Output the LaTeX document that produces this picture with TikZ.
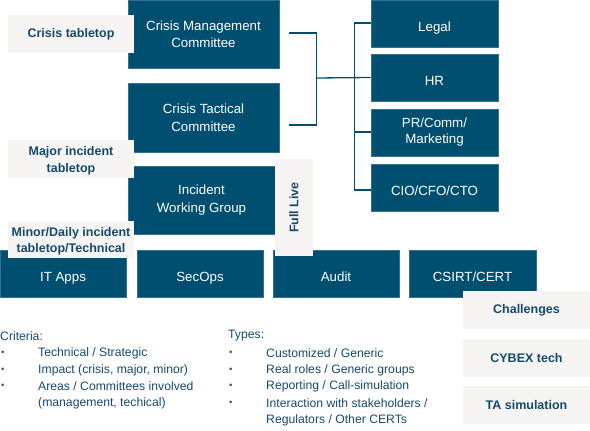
\documentclass[tikz,border=0pt]{standalone}
\usepackage{fontspec}
\setmainfont{Liberation Sans}
\definecolor{boxblue}{RGB}{0,79,112}
\definecolor{lblgray}{RGB}{246,245,243}
\definecolor{txtblue}{RGB}{22,74,106}
\definecolor{bulgray}{RGB}{70,80,90}
\tikzset{
  box/.style={fill=boxblue, draw=boxblue!80!white, line width=0.6pt, text=white, align=center, inner sep=0pt,
    font=\fontsize{13.3}{17.5}\selectfont},
  one/.style={text height=15pt, text depth=0pt},
  lbl/.style={fill=lblgray, text=txtblue, align=center, inner sep=0pt,
    font=\fontsize{12.5}{16.5}\selectfont\bfseries},
  conn/.style={draw=boxblue, line width=1.3pt},
  plain/.style={anchor=west, text=txtblue, inner sep=0pt, font=\fontsize{12.2}{17}\selectfont},
  bul/.style={anchor=west, text=bulgray, inner sep=0pt, font=\fontsize{9.5}{10}\selectfont},
}
\begin{document}
\begin{tikzpicture}[x=1pt,y=-1pt]
\useasboundingbox (0,0) rectangle (590,431);
% left hierarchy
\node[box, minimum width=151pt, minimum height=68pt] (cmc) at (203.5,34) {Crisis Management\\Committee};
\node[box, minimum width=151pt, minimum height=69pt] (ctc) at (203.5,117.5) {Crisis Tactical\\Committee};
\node[box, minimum width=147pt, minimum height=68pt] (iwg) at (201.5,200) {Incident\\Working Group};
% bottom row
\node[box, one, minimum width=126pt, minimum height=47pt] (itapps) at (63,273.5) {IT Apps};
\node[box, one, minimum width=126pt, minimum height=47pt] (secops) at (200,273.5) {SecOps};
\node[box, one, minimum width=126pt, minimum height=47pt] (audit) at (336,273.5) {Audit};
\node[box, one, minimum width=127pt, minimum height=47pt] (csirt) at (472.5,273.5) {CSIRT/CERT};
% right column
\node[box, one, minimum width=127pt, minimum height=47pt] (legal) at (434.5,23.5) {Legal};
\node[box, one, minimum width=127pt, minimum height=47pt] (hr) at (434.5,77.5) {HR};
\node[box, minimum width=127pt, minimum height=47pt, font=\fontsize{13.3}{16}\selectfont] (pr) at (434.5,132.5) {PR/Comm/\\Marketing};
\node[box, one, minimum width=127pt, minimum height=47pt] (cio) at (434.5,187.5) {CIO/CFO/CTO};
% labels
\node[lbl, minimum width=126pt, minimum height=38pt] (ct) at (71,34) {Crisis tabletop};
\node[lbl, minimum width=126pt, minimum height=38pt] (mit) at (71,159) {};
\node[lbl, fill=none] (mittext) at (71,161) {Major incident\\tabletop};
\node[lbl, minimum width=126pt, minimum height=37pt] (mdt) at (71,239.5) {};
\node[lbl, fill=none] (mdttext) at (71,241.5) {Minor/Daily incident\\tabletop/Technical};
\node[lbl, minimum width=38pt, minimum height=97pt] (fl) at (294,207.5) {};
\node[lbl, rotate=90, fill=none] (fltext) at (294,207.5) {Full Live};
\node[lbl, minimum width=127pt, minimum height=38pt] (chal) at (526.5,310) {Challenges};
\node[lbl, minimum width=127pt, minimum height=38pt] (cybex) at (526.5,358) {CYBEX tech};
\node[lbl, minimum width=127pt, minimum height=38pt] (tasim) at (526.5,405) {TA simulation};
% connectors
\coordinate (jhr) at (316,78);
\draw[conn] ([xshift=10pt,yshift=1pt]cmc.east) -- ++(27,0) |- ([xshift=10pt,yshift=-7.5pt]ctc.east);
\draw[conn] (jhr) -- (hr.west);
\draw[conn] ([yshift=0.5pt]legal.west) -- ++(-16,0) |- ([yshift=-2.5pt]cio.west);
\draw[conn] ([yshift=0.5pt]pr.west) -- ++(-16,0);
% criteria
\node[plain] (crit) at (0,336) {Criteria:};
\node[bul] (cb1) at (1,353) {\textbullet};
\node[plain] (c1) at (38,353) {Technical / Strategic};
\node[bul] (cb2) at (1,370) {\textbullet};
\node[plain] (c2) at (38,370) {Impact (crisis, major, minor)};
\node[bul] (cb3) at (1,386) {\textbullet};
\node[plain] (c3) at (38,386) {Areas / Committees involved};
\node[plain] (c4) at (38,403) {(management, techical)};
% types
\node[plain] (types) at (228,336) {Types:};
\node[bul] (tb1) at (229,353) {\textbullet};
\node[plain] (t1) at (266,353) {Customized / Generic};
\node[bul] (tb2) at (229,370) {\textbullet};
\node[plain] (t2) at (266,370) {Real roles / Generic groups};
\node[bul] (tb3) at (229,386) {\textbullet};
\node[plain] (t3) at (266,386) {Reporting / Call-simulation};
\node[bul] (tb4) at (229,403) {\textbullet};
\node[plain] (t4) at (266,403) {Interaction with stakeholders /};
\node[plain] (t5) at (266,420) {Regulators / Other CERTs};
\end{tikzpicture}
\end{document}
